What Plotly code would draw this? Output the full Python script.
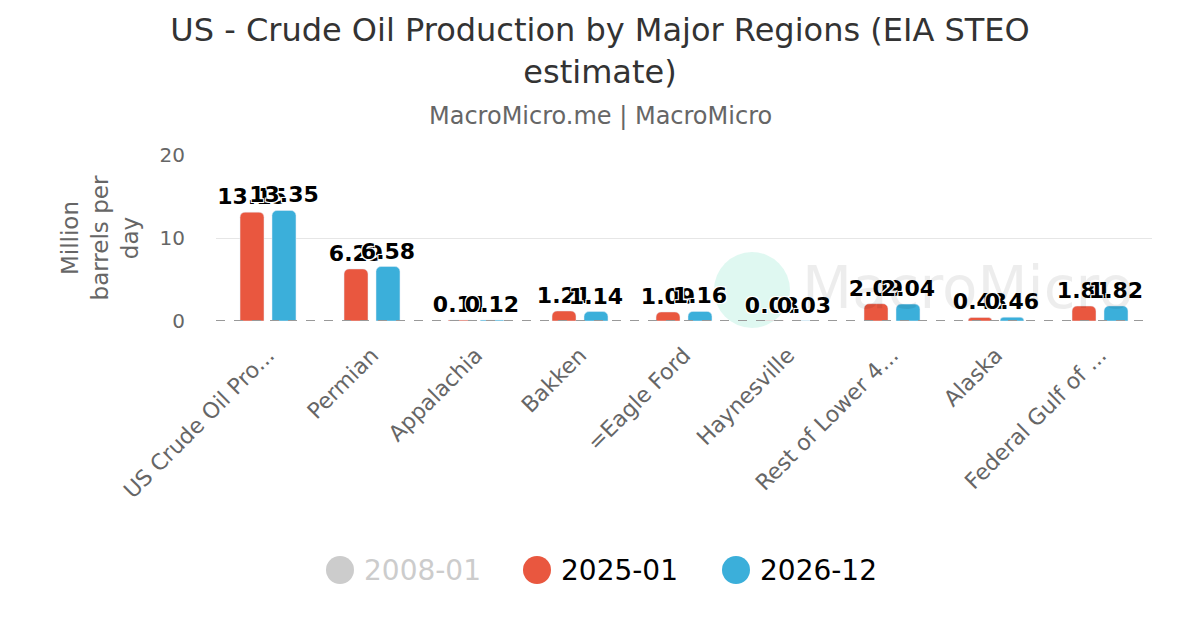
import plotly.graph_objects as go

categories = ["US Crude Oil Pro...", "Permian", "Appalachia", "Bakken", "=Eagle Ford",
              "Haynesville", "Rest of Lower 4...", "Alaska", "Federal Gulf of ..."]
series_names = ["2008-01", "2025-01", "2026-12"]
values_2025_01 = [13.15, 6.29, 0.11, 1.21, 1.09, 0.03, 2.09, 0.43, 1.81]
values_2026_12 = [13.35, 6.58, 0.12, 1.14, 1.16, 0.03, 2.04, 0.46, 1.82]
y_ticks = [0, 10, 20]

RED = "#e9573f"
BLUE = "#3bafda"
GREY = "#cccccc"
FONT = "DejaVu Sans"

# plot area in pixels
PL, PR, PT, PB = 216, 1152, 155, 321


def px(x):
    return (x - PL) / (PR - PL)


def py(y):
    return (PB - y) / (PB - PT)


fig = go.Figure()

shadow = "-1px -1px 0 #fff, 1px -1px 0 #fff, -1px 1px 0 #fff, 1px 1px 0 #fff"

for name, vals, col in [(series_names[1], values_2025_01, RED), (series_names[2], values_2026_12, BLUE)]:
    fig.add_trace(go.Bar(
        x=categories, y=vals, name=name, marker_color=col, showlegend=False,
        text=[f"{v:.2f}" for v in vals], textposition="outside",
        textfont=dict(family=FONT, size=22, color="#000", weight="bold", shadow=shadow),
        constraintext="none", cliponaxis=False,
    ))

shapes = [
    dict(type="line", xref="paper", yref="y", x0=0, x1=1, y0=0, y1=0,
         line=dict(color="#999", width=2, dash="dash")),
    dict(type="circle", xref="paper", yref="paper", layer="below",
         x0=px(714), x1=px(790), y0=py(328), y1=py(252),
         fillcolor="rgba(80,215,180,0.18)", line=dict(width=0)),
]
annotations = [
    dict(text="MacroMicro.me | MacroMicro", xref="paper", yref="paper",
         x=px(600), y=py(116), xanchor="center", yanchor="middle",
         showarrow=False, font=dict(family=FONT, size=24, color="#666")),
    dict(text="MacroMicro", xref="paper", yref="paper", x=px(800), y=py(288),
         xanchor="left", yanchor="middle", showarrow=False,
         font=dict(family=FONT, size=58, color="rgba(0,0,0,0.07)")),
]

# legend drawn manually (large circle symbols)
legend_x = [340, 537, 736]
legend_cols = [GREY, RED, BLUE]
legend_text_cols = [GREY, "#000", "#000"]
for name, cx, col, tcol in zip(series_names, legend_x, legend_cols, legend_text_cols):
    shapes.append(dict(type="circle", xref="paper", yref="paper",
                       x0=px(cx - 14), x1=px(cx + 14), y0=py(570 + 14), y1=py(570 - 14),
                       fillcolor=col, line=dict(width=0)))
    annotations.append(dict(text=name, xref="paper", yref="paper", x=px(cx + 22), y=py(570),
                            xanchor="left", yanchor="middle", showarrow=False,
                            font=dict(family=FONT, size=28, color=tcol)))

fig.update_layout(
    width=1200, height=630,
    paper_bgcolor="white", plot_bgcolor="white",
    font=dict(family=FONT, color="#333"),
    margin=dict(l=PL, r=1200 - PR, t=PT, b=630 - PB, autoexpand=False),
    barmode="group", bargap=0.385, bargroupgap=0.25, barcornerradius=5,
    showlegend=False,
    title=dict(
        text="US - Crude Oil Production by Major Regions (EIA STEO<br>estimate)",
        x=0.5, xanchor="center", y=0.935, yanchor="top", yref="container",
        font=dict(family=FONT, size=32, color="#333"),
    ),
    xaxis=dict(
        tickangle=-45, tickfont=dict(family=FONT, size=22, color="#666"),
        showgrid=False, showline=False, ticks="", automargin=False,
        ticklabelstandoff=16,
    ),
    yaxis=dict(
        range=[0, 20.05], tickvals=y_ticks, tickfont=dict(family=FONT, size=20, color="#666"),
        gridcolor="#e6e6e6", gridwidth=1, zeroline=False, showline=False,
        ticklabelstandoff=30, automargin=False,
        title=dict(text="Million<br>barrels per<br>day", font=dict(family=FONT, size=23, color="#666"),
                   standoff=14),
    ),
    shapes=shapes,
    annotations=annotations,
)

fig.write_html("out.html", config={"displayModeBar": False},
               post_script="document.body.style.margin='0';")
